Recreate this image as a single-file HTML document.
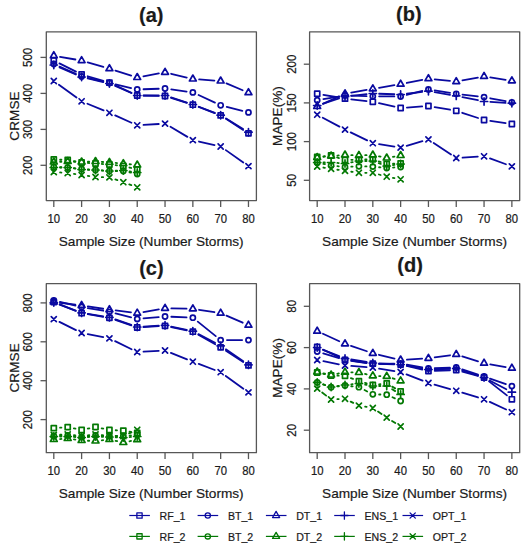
<!DOCTYPE html>
<html><head><meta charset="utf-8"><style>
html,body{margin:0;padding:0;background:#fff;}
svg{display:block;stroke-linecap:round;stroke-linejoin:round;}
text{stroke:#1a1a1a;stroke-width:0.2px;font-family:"Liberation Sans",sans-serif;}
</style></head><body>
<svg width="529" height="550" viewBox="0 0 529 550">
<rect width="529" height="550" fill="#fff"/>
<text x="151.20" y="21.8" font-size="20" font-weight="bold" text-anchor="middle" fill="#1a1a1a">(a)</text>
<rect x="46.3" y="31.8" width="210.10" height="168.80" fill="none" stroke="#575757" stroke-width="1.3"/>
<line x1="53.80" y1="200.6" x2="53.80" y2="207.00" stroke="#575757" stroke-width="1.3" stroke-linecap="butt"/>
<text transform="translate(53.80,223.30) scale(1,1.1)" font-size="11.3" text-anchor="middle" fill="#1a1a1a">10</text>
<line x1="81.61" y1="200.6" x2="81.61" y2="207.00" stroke="#575757" stroke-width="1.3" stroke-linecap="butt"/>
<text transform="translate(81.61,223.30) scale(1,1.1)" font-size="11.3" text-anchor="middle" fill="#1a1a1a">20</text>
<line x1="109.42" y1="200.6" x2="109.42" y2="207.00" stroke="#575757" stroke-width="1.3" stroke-linecap="butt"/>
<text transform="translate(109.42,223.30) scale(1,1.1)" font-size="11.3" text-anchor="middle" fill="#1a1a1a">30</text>
<line x1="137.23" y1="200.6" x2="137.23" y2="207.00" stroke="#575757" stroke-width="1.3" stroke-linecap="butt"/>
<text transform="translate(137.23,223.30) scale(1,1.1)" font-size="11.3" text-anchor="middle" fill="#1a1a1a">40</text>
<line x1="165.04" y1="200.6" x2="165.04" y2="207.00" stroke="#575757" stroke-width="1.3" stroke-linecap="butt"/>
<text transform="translate(165.04,223.30) scale(1,1.1)" font-size="11.3" text-anchor="middle" fill="#1a1a1a">50</text>
<line x1="192.85" y1="200.6" x2="192.85" y2="207.00" stroke="#575757" stroke-width="1.3" stroke-linecap="butt"/>
<text transform="translate(192.85,223.30) scale(1,1.1)" font-size="11.3" text-anchor="middle" fill="#1a1a1a">60</text>
<line x1="220.66" y1="200.6" x2="220.66" y2="207.00" stroke="#575757" stroke-width="1.3" stroke-linecap="butt"/>
<text transform="translate(220.66,223.30) scale(1,1.1)" font-size="11.3" text-anchor="middle" fill="#1a1a1a">70</text>
<line x1="248.47" y1="200.6" x2="248.47" y2="207.00" stroke="#575757" stroke-width="1.3" stroke-linecap="butt"/>
<text transform="translate(248.47,223.30) scale(1,1.1)" font-size="11.3" text-anchor="middle" fill="#1a1a1a">80</text>
<text x="151.20" y="245.70" font-size="13.65" text-anchor="middle" fill="#1a1a1a">Sample Size (Number Storms)</text>
<line x1="40.50" y1="57.4" x2="46.3" y2="57.4" stroke="#575757" stroke-width="1.3" stroke-linecap="butt"/>
<text transform="translate(32.40,57.4) rotate(-90) scale(1,1.08)" font-size="11.6" text-anchor="middle" fill="#1a1a1a">500</text>
<line x1="40.50" y1="93.4" x2="46.3" y2="93.4" stroke="#575757" stroke-width="1.3" stroke-linecap="butt"/>
<text transform="translate(32.40,93.4) rotate(-90) scale(1,1.08)" font-size="11.6" text-anchor="middle" fill="#1a1a1a">400</text>
<line x1="40.50" y1="129.4" x2="46.3" y2="129.4" stroke="#575757" stroke-width="1.3" stroke-linecap="butt"/>
<text transform="translate(32.40,129.4) rotate(-90) scale(1,1.08)" font-size="11.6" text-anchor="middle" fill="#1a1a1a">300</text>
<line x1="40.50" y1="165.3" x2="46.3" y2="165.3" stroke="#575757" stroke-width="1.3" stroke-linecap="butt"/>
<text transform="translate(32.40,165.3) rotate(-90) scale(1,1.08)" font-size="11.6" text-anchor="middle" fill="#1a1a1a">200</text>
<text transform="translate(18.60,116.05) rotate(-90)" font-size="13.65" text-anchor="middle" fill="#1a1a1a">CRMSE</text>
<line x1="60.10" y1="159.73" x2="61.41" y2="159.77" stroke="#037803" stroke-width="1.8" stroke-dasharray="7,5"/>
<line x1="73.91" y1="161.11" x2="75.41" y2="161.39" stroke="#037803" stroke-width="1.8" stroke-dasharray="7,5"/>
<line x1="87.89" y1="162.95" x2="89.23" y2="163.05" stroke="#037803" stroke-width="1.8" stroke-dasharray="7,5"/>
<line x1="101.80" y1="163.95" x2="103.14" y2="164.05" stroke="#037803" stroke-width="1.8" stroke-dasharray="7,5"/>
<line x1="115.68" y1="165.18" x2="117.06" y2="165.32" stroke="#037803" stroke-width="1.8" stroke-dasharray="7,5"/>
<line x1="129.43" y1="167.54" x2="131.12" y2="167.96" stroke="#037803" stroke-width="1.8" stroke-dasharray="7,5"/>
<rect x="51.25" y="156.95" width="5.10" height="5.10" fill="none" stroke="#037803" stroke-width="1.7"/>
<rect x="65.16" y="157.45" width="5.10" height="5.10" fill="none" stroke="#037803" stroke-width="1.7"/>
<rect x="79.06" y="159.95" width="5.10" height="5.10" fill="none" stroke="#037803" stroke-width="1.7"/>
<rect x="92.96" y="160.95" width="5.10" height="5.10" fill="none" stroke="#037803" stroke-width="1.7"/>
<rect x="106.87" y="161.95" width="5.10" height="5.10" fill="none" stroke="#037803" stroke-width="1.7"/>
<rect x="120.77" y="163.45" width="5.10" height="5.10" fill="none" stroke="#037803" stroke-width="1.7"/>
<rect x="134.68" y="166.95" width="5.10" height="5.10" fill="none" stroke="#037803" stroke-width="1.7"/>
<line x1="60.10" y1="167.23" x2="61.41" y2="167.27" stroke="#037803" stroke-width="1.8" stroke-dasharray="7,5"/>
<line x1="73.97" y1="168.18" x2="75.35" y2="168.32" stroke="#037803" stroke-width="1.8" stroke-dasharray="7,5"/>
<line x1="87.89" y1="169.45" x2="89.23" y2="169.55" stroke="#037803" stroke-width="1.8" stroke-dasharray="7,5"/>
<line x1="101.80" y1="170.45" x2="103.14" y2="170.55" stroke="#037803" stroke-width="1.8" stroke-dasharray="7,5"/>
<line x1="115.72" y1="171.00" x2="117.02" y2="171.00" stroke="#037803" stroke-width="1.8" stroke-dasharray="7,5"/>
<line x1="129.48" y1="172.33" x2="131.07" y2="172.67" stroke="#037803" stroke-width="1.8" stroke-dasharray="7,5"/>
<circle cx="53.80" cy="167.00" r="2.55" fill="none" stroke="#037803" stroke-width="1.7"/>
<circle cx="67.70" cy="167.50" r="2.55" fill="none" stroke="#037803" stroke-width="1.7"/>
<circle cx="81.61" cy="169.00" r="2.55" fill="none" stroke="#037803" stroke-width="1.7"/>
<circle cx="95.51" cy="170.00" r="2.55" fill="none" stroke="#037803" stroke-width="1.7"/>
<circle cx="109.42" cy="171.00" r="2.55" fill="none" stroke="#037803" stroke-width="1.7"/>
<circle cx="123.32" cy="171.00" r="2.55" fill="none" stroke="#037803" stroke-width="1.7"/>
<circle cx="137.23" cy="174.00" r="2.55" fill="none" stroke="#037803" stroke-width="1.7"/>
<line x1="60.10" y1="161.77" x2="61.41" y2="161.73" stroke="#037803" stroke-width="1.8" stroke-dasharray="7,5"/>
<line x1="74.00" y1="161.73" x2="75.31" y2="161.77" stroke="#037803" stroke-width="1.8" stroke-dasharray="7,5"/>
<line x1="87.91" y1="161.77" x2="89.22" y2="161.73" stroke="#037803" stroke-width="1.8" stroke-dasharray="7,5"/>
<line x1="101.80" y1="161.91" x2="103.13" y2="161.99" stroke="#037803" stroke-width="1.8" stroke-dasharray="7,5"/>
<line x1="115.70" y1="162.94" x2="117.05" y2="163.06" stroke="#037803" stroke-width="1.8" stroke-dasharray="7,5"/>
<line x1="129.59" y1="164.23" x2="130.96" y2="164.37" stroke="#037803" stroke-width="1.8" stroke-dasharray="7,5"/>
<polygon points="53.80,158.03 57.23,163.98 50.37,163.98" fill="none" stroke="#037803" stroke-width="1.7" />
<polygon points="67.70,157.53 71.14,163.48 64.27,163.48" fill="none" stroke="#037803" stroke-width="1.7" />
<polygon points="81.61,158.03 85.04,163.98 78.18,163.98" fill="none" stroke="#037803" stroke-width="1.7" />
<polygon points="95.51,157.53 98.95,163.48 92.08,163.48" fill="none" stroke="#037803" stroke-width="1.7" />
<polygon points="109.42,158.43 112.85,164.38 105.99,164.38" fill="none" stroke="#037803" stroke-width="1.7" />
<polygon points="123.32,159.63 126.76,165.58 119.89,165.58" fill="none" stroke="#037803" stroke-width="1.7" />
<polygon points="137.23,161.03 140.66,166.98 133.80,166.98" fill="none" stroke="#037803" stroke-width="1.7" />
<line x1="60.10" y1="167.50" x2="61.41" y2="167.50" stroke="#037803" stroke-width="1.8" stroke-dasharray="7,5"/>
<line x1="73.94" y1="168.40" x2="75.37" y2="168.60" stroke="#037803" stroke-width="1.8" stroke-dasharray="7,5"/>
<line x1="87.91" y1="169.73" x2="89.22" y2="169.77" stroke="#037803" stroke-width="1.8" stroke-dasharray="7,5"/>
<line x1="101.80" y1="170.45" x2="103.14" y2="170.55" stroke="#037803" stroke-width="1.8" stroke-dasharray="7,5"/>
<line x1="115.72" y1="170.77" x2="117.03" y2="170.73" stroke="#037803" stroke-width="1.8" stroke-dasharray="7,5"/>
<line x1="129.56" y1="171.40" x2="130.99" y2="171.60" stroke="#037803" stroke-width="1.8" stroke-dasharray="7,5"/>
<path d="M50.19 167.50H57.41M53.80 163.89V171.11" stroke="#037803" stroke-width="1.7" fill="none"/>
<path d="M64.10 167.50H71.31M67.70 163.89V171.11" stroke="#037803" stroke-width="1.7" fill="none"/>
<path d="M78.00 169.50H85.22M81.61 165.89V173.11" stroke="#037803" stroke-width="1.7" fill="none"/>
<path d="M91.91 170.00H99.12M95.51 166.39V173.61" stroke="#037803" stroke-width="1.7" fill="none"/>
<path d="M105.81 171.00H113.03M109.42 167.39V174.61" stroke="#037803" stroke-width="1.7" fill="none"/>
<path d="M119.72 170.50H126.93M123.32 166.89V174.11" stroke="#037803" stroke-width="1.7" fill="none"/>
<path d="M133.62 172.50H140.84M137.23 168.89V176.11" stroke="#037803" stroke-width="1.7" fill="none"/>
<line x1="60.08" y1="172.45" x2="61.42" y2="172.55" stroke="#037803" stroke-width="1.8" stroke-dasharray="7,5"/>
<line x1="73.94" y1="173.90" x2="75.37" y2="174.10" stroke="#037803" stroke-width="1.8" stroke-dasharray="7,5"/>
<line x1="87.85" y1="175.90" x2="89.28" y2="176.10" stroke="#037803" stroke-width="1.8" stroke-dasharray="7,5"/>
<line x1="101.81" y1="177.18" x2="103.12" y2="177.22" stroke="#037803" stroke-width="1.8" stroke-dasharray="7,5"/>
<line x1="115.38" y1="179.46" x2="117.37" y2="180.14" stroke="#037803" stroke-width="1.8" stroke-dasharray="7,5"/>
<line x1="129.24" y1="184.37" x2="131.32" y2="185.13" stroke="#037803" stroke-width="1.8" stroke-dasharray="7,5"/>
<path d="M51.25 169.45L56.35 174.55M51.25 174.55L56.35 169.45" stroke="#037803" stroke-width="1.7" fill="none"/>
<path d="M65.16 170.45L70.25 175.55M65.16 175.55L70.25 170.45" stroke="#037803" stroke-width="1.7" fill="none"/>
<path d="M79.06 172.45L84.16 177.55M79.06 177.55L84.16 172.45" stroke="#037803" stroke-width="1.7" fill="none"/>
<path d="M92.96 174.45L98.06 179.55M92.96 179.55L98.06 174.45" stroke="#037803" stroke-width="1.7" fill="none"/>
<path d="M106.87 174.85L111.97 179.95M106.87 179.95L111.97 174.85" stroke="#037803" stroke-width="1.7" fill="none"/>
<path d="M120.77 179.65L125.87 184.75M120.77 184.75L125.87 179.65" stroke="#037803" stroke-width="1.7" fill="none"/>
<path d="M134.68 184.75L139.78 189.85M134.68 189.85L139.78 184.75" stroke="#037803" stroke-width="1.7" fill="none"/>
<line x1="59.43" y1="63.33" x2="75.98" y2="71.67" stroke="#0a0aa0" stroke-width="1.8"/>
<line x1="87.66" y1="76.26" x2="103.37" y2="80.84" stroke="#0a0aa0" stroke-width="1.8"/>
<line x1="115.14" y1="85.25" x2="131.51" y2="92.85" stroke="#0a0aa0" stroke-width="1.8"/>
<line x1="143.53" y1="95.61" x2="158.74" y2="95.89" stroke="#0a0aa0" stroke-width="1.8"/>
<line x1="171.05" y1="97.88" x2="186.84" y2="102.82" stroke="#0a0aa0" stroke-width="1.8"/>
<line x1="198.73" y1="106.96" x2="214.78" y2="113.14" stroke="#0a0aa0" stroke-width="1.8"/>
<line x1="225.96" y1="118.81" x2="243.17" y2="129.89" stroke="#0a0aa0" stroke-width="1.8"/>
<rect x="51.25" y="57.95" width="5.10" height="5.10" fill="none" stroke="#0a0aa0" stroke-width="1.7"/>
<rect x="79.06" y="71.95" width="5.10" height="5.10" fill="none" stroke="#0a0aa0" stroke-width="1.7"/>
<rect x="106.87" y="80.05" width="5.10" height="5.10" fill="none" stroke="#0a0aa0" stroke-width="1.7"/>
<rect x="134.68" y="92.95" width="5.10" height="5.10" fill="none" stroke="#0a0aa0" stroke-width="1.7"/>
<rect x="162.49" y="93.45" width="5.10" height="5.10" fill="none" stroke="#0a0aa0" stroke-width="1.7"/>
<rect x="190.30" y="102.15" width="5.10" height="5.10" fill="none" stroke="#0a0aa0" stroke-width="1.7"/>
<rect x="218.11" y="112.85" width="5.10" height="5.10" fill="none" stroke="#0a0aa0" stroke-width="1.7"/>
<rect x="245.92" y="130.75" width="5.10" height="5.10" fill="none" stroke="#0a0aa0" stroke-width="1.7"/>
<line x1="59.55" y1="66.58" x2="75.86" y2="73.92" stroke="#0a0aa0" stroke-width="1.8"/>
<line x1="87.74" y1="77.93" x2="103.29" y2="81.57" stroke="#0a0aa0" stroke-width="1.8"/>
<line x1="115.55" y1="84.43" x2="131.10" y2="88.07" stroke="#0a0aa0" stroke-width="1.8"/>
<line x1="143.53" y1="89.27" x2="158.74" y2="88.73" stroke="#0a0aa0" stroke-width="1.8"/>
<line x1="171.28" y1="89.37" x2="186.61" y2="91.53" stroke="#0a0aa0" stroke-width="1.8"/>
<line x1="198.57" y1="95.05" x2="214.94" y2="102.65" stroke="#0a0aa0" stroke-width="1.8"/>
<line x1="226.76" y1="106.86" x2="242.37" y2="110.84" stroke="#0a0aa0" stroke-width="1.8"/>
<circle cx="53.80" cy="64.00" r="2.55" fill="none" stroke="#0a0aa0" stroke-width="1.7"/>
<circle cx="81.61" cy="76.50" r="2.55" fill="none" stroke="#0a0aa0" stroke-width="1.7"/>
<circle cx="109.42" cy="83.00" r="2.55" fill="none" stroke="#0a0aa0" stroke-width="1.7"/>
<circle cx="137.23" cy="89.50" r="2.55" fill="none" stroke="#0a0aa0" stroke-width="1.7"/>
<circle cx="165.04" cy="88.50" r="2.55" fill="none" stroke="#0a0aa0" stroke-width="1.7"/>
<circle cx="192.85" cy="92.40" r="2.55" fill="none" stroke="#0a0aa0" stroke-width="1.7"/>
<circle cx="220.66" cy="105.30" r="2.55" fill="none" stroke="#0a0aa0" stroke-width="1.7"/>
<circle cx="248.47" cy="112.40" r="2.55" fill="none" stroke="#0a0aa0" stroke-width="1.7"/>
<line x1="60.00" y1="56.79" x2="75.41" y2="59.51" stroke="#0a0aa0" stroke-width="1.8"/>
<line x1="87.66" y1="62.36" x2="103.37" y2="66.94" stroke="#0a0aa0" stroke-width="1.8"/>
<line x1="115.43" y1="70.60" x2="131.22" y2="75.60" stroke="#0a0aa0" stroke-width="1.8"/>
<line x1="143.42" y1="76.34" x2="158.85" y2="73.46" stroke="#0a0aa0" stroke-width="1.8"/>
<line x1="171.16" y1="73.78" x2="186.73" y2="77.52" stroke="#0a0aa0" stroke-width="1.8"/>
<line x1="199.13" y1="79.45" x2="214.38" y2="80.55" stroke="#0a0aa0" stroke-width="1.8"/>
<line x1="226.47" y1="83.44" x2="242.66" y2="90.26" stroke="#0a0aa0" stroke-width="1.8"/>
<polygon points="53.80,51.73 57.23,57.68 50.37,57.68" fill="none" stroke="#0a0aa0" stroke-width="1.7" />
<polygon points="81.61,56.63 85.04,62.58 78.18,62.58" fill="none" stroke="#0a0aa0" stroke-width="1.7" />
<polygon points="109.42,64.73 112.85,70.68 105.99,70.68" fill="none" stroke="#0a0aa0" stroke-width="1.7" />
<polygon points="137.23,73.53 140.66,79.48 133.80,79.48" fill="none" stroke="#0a0aa0" stroke-width="1.7" />
<polygon points="165.04,68.33 168.47,74.28 161.61,74.28" fill="none" stroke="#0a0aa0" stroke-width="1.7" />
<polygon points="192.85,75.03 196.28,80.98 189.42,80.98" fill="none" stroke="#0a0aa0" stroke-width="1.7" />
<polygon points="220.66,77.03 224.09,82.98 217.23,82.98" fill="none" stroke="#0a0aa0" stroke-width="1.7" />
<polygon points="248.47,88.73 251.90,94.68 245.04,94.68" fill="none" stroke="#0a0aa0" stroke-width="1.7" />
<line x1="59.58" y1="67.50" x2="75.83" y2="74.50" stroke="#0a0aa0" stroke-width="1.8"/>
<line x1="87.74" y1="78.43" x2="103.29" y2="82.07" stroke="#0a0aa0" stroke-width="1.8"/>
<line x1="115.20" y1="86.00" x2="131.45" y2="93.00" stroke="#0a0aa0" stroke-width="1.8"/>
<line x1="143.53" y1="95.50" x2="158.74" y2="95.50" stroke="#0a0aa0" stroke-width="1.8"/>
<line x1="171.03" y1="97.44" x2="186.86" y2="102.56" stroke="#0a0aa0" stroke-width="1.8"/>
<line x1="198.73" y1="106.76" x2="214.78" y2="112.94" stroke="#0a0aa0" stroke-width="1.8"/>
<line x1="226.04" y1="118.49" x2="243.09" y2="128.91" stroke="#0a0aa0" stroke-width="1.8"/>
<path d="M50.19 65.00H57.41M53.80 61.39V68.61" stroke="#0a0aa0" stroke-width="1.7" fill="none"/>
<path d="M78.00 77.00H85.22M81.61 73.39V80.61" stroke="#0a0aa0" stroke-width="1.7" fill="none"/>
<path d="M105.81 83.50H113.03M109.42 79.89V87.11" stroke="#0a0aa0" stroke-width="1.7" fill="none"/>
<path d="M133.62 95.50H140.84M137.23 91.89V99.11" stroke="#0a0aa0" stroke-width="1.7" fill="none"/>
<path d="M161.43 95.50H168.65M165.04 91.89V99.11" stroke="#0a0aa0" stroke-width="1.7" fill="none"/>
<path d="M189.24 104.50H196.46M192.85 100.89V108.11" stroke="#0a0aa0" stroke-width="1.7" fill="none"/>
<path d="M217.05 115.20H224.27M220.66 111.59V118.81" stroke="#0a0aa0" stroke-width="1.7" fill="none"/>
<path d="M244.86 132.20H252.08M248.47 128.59V135.81" stroke="#0a0aa0" stroke-width="1.7" fill="none"/>
<line x1="58.89" y1="84.71" x2="76.52" y2="97.59" stroke="#0a0aa0" stroke-width="1.8"/>
<line x1="87.43" y1="103.71" x2="103.60" y2="110.39" stroke="#0a0aa0" stroke-width="1.8"/>
<line x1="115.17" y1="115.38" x2="131.48" y2="122.72" stroke="#0a0aa0" stroke-width="1.8"/>
<line x1="143.52" y1="124.92" x2="158.75" y2="123.98" stroke="#0a0aa0" stroke-width="1.8"/>
<line x1="170.46" y1="126.81" x2="187.43" y2="136.89" stroke="#0a0aa0" stroke-width="1.8"/>
<line x1="198.99" y1="141.51" x2="214.52" y2="145.09" stroke="#0a0aa0" stroke-width="1.8"/>
<line x1="225.81" y1="150.13" x2="243.32" y2="162.47" stroke="#0a0aa0" stroke-width="1.8"/>
<path d="M51.25 78.45L56.35 83.55M51.25 83.55L56.35 78.45" stroke="#0a0aa0" stroke-width="1.7" fill="none"/>
<path d="M79.06 98.75L84.16 103.85M79.06 103.85L84.16 98.75" stroke="#0a0aa0" stroke-width="1.7" fill="none"/>
<path d="M106.87 110.25L111.97 115.35M106.87 115.35L111.97 110.25" stroke="#0a0aa0" stroke-width="1.7" fill="none"/>
<path d="M134.68 122.75L139.78 127.85M134.68 127.85L139.78 122.75" stroke="#0a0aa0" stroke-width="1.7" fill="none"/>
<path d="M162.49 121.05L167.59 126.15M162.49 126.15L167.59 121.05" stroke="#0a0aa0" stroke-width="1.7" fill="none"/>
<path d="M190.30 137.55L195.40 142.65M190.30 142.65L195.40 137.55" stroke="#0a0aa0" stroke-width="1.7" fill="none"/>
<path d="M218.11 143.95L223.21 149.05M218.11 149.05L223.21 143.95" stroke="#0a0aa0" stroke-width="1.7" fill="none"/>
<path d="M245.92 163.55L251.02 168.65M245.92 168.65L251.02 163.55" stroke="#0a0aa0" stroke-width="1.7" fill="none"/>
<text x="408.80" y="21.2" font-size="20" font-weight="bold" text-anchor="middle" fill="#1a1a1a">(b)</text>
<rect x="309.6" y="31.8" width="210.10" height="168.80" fill="none" stroke="#575757" stroke-width="1.3"/>
<line x1="317.20" y1="200.6" x2="317.20" y2="207.00" stroke="#575757" stroke-width="1.3" stroke-linecap="butt"/>
<text transform="translate(317.20,223.30) scale(1,1.1)" font-size="11.3" text-anchor="middle" fill="#1a1a1a">10</text>
<line x1="345.01" y1="200.6" x2="345.01" y2="207.00" stroke="#575757" stroke-width="1.3" stroke-linecap="butt"/>
<text transform="translate(345.01,223.30) scale(1,1.1)" font-size="11.3" text-anchor="middle" fill="#1a1a1a">20</text>
<line x1="372.82" y1="200.6" x2="372.82" y2="207.00" stroke="#575757" stroke-width="1.3" stroke-linecap="butt"/>
<text transform="translate(372.82,223.30) scale(1,1.1)" font-size="11.3" text-anchor="middle" fill="#1a1a1a">30</text>
<line x1="400.63" y1="200.6" x2="400.63" y2="207.00" stroke="#575757" stroke-width="1.3" stroke-linecap="butt"/>
<text transform="translate(400.63,223.30) scale(1,1.1)" font-size="11.3" text-anchor="middle" fill="#1a1a1a">40</text>
<line x1="428.44" y1="200.6" x2="428.44" y2="207.00" stroke="#575757" stroke-width="1.3" stroke-linecap="butt"/>
<text transform="translate(428.44,223.30) scale(1,1.1)" font-size="11.3" text-anchor="middle" fill="#1a1a1a">50</text>
<line x1="456.25" y1="200.6" x2="456.25" y2="207.00" stroke="#575757" stroke-width="1.3" stroke-linecap="butt"/>
<text transform="translate(456.25,223.30) scale(1,1.1)" font-size="11.3" text-anchor="middle" fill="#1a1a1a">60</text>
<line x1="484.06" y1="200.6" x2="484.06" y2="207.00" stroke="#575757" stroke-width="1.3" stroke-linecap="butt"/>
<text transform="translate(484.06,223.30) scale(1,1.1)" font-size="11.3" text-anchor="middle" fill="#1a1a1a">70</text>
<line x1="511.87" y1="200.6" x2="511.87" y2="207.00" stroke="#575757" stroke-width="1.3" stroke-linecap="butt"/>
<text transform="translate(511.87,223.30) scale(1,1.1)" font-size="11.3" text-anchor="middle" fill="#1a1a1a">80</text>
<text x="414.55" y="245.70" font-size="13.65" text-anchor="middle" fill="#1a1a1a">Sample Size (Number Storms)</text>
<line x1="303.80" y1="64.2" x2="309.6" y2="64.2" stroke="#575757" stroke-width="1.3" stroke-linecap="butt"/>
<text transform="translate(295.80,64.2) rotate(-90) scale(1,1.08)" font-size="11.6" text-anchor="middle" fill="#1a1a1a">200</text>
<line x1="303.80" y1="102.9" x2="309.6" y2="102.9" stroke="#575757" stroke-width="1.3" stroke-linecap="butt"/>
<text transform="translate(295.80,102.9) rotate(-90) scale(1,1.08)" font-size="11.6" text-anchor="middle" fill="#1a1a1a">150</text>
<line x1="303.80" y1="141.6" x2="309.6" y2="141.6" stroke="#575757" stroke-width="1.3" stroke-linecap="butt"/>
<text transform="translate(295.80,141.6) rotate(-90) scale(1,1.08)" font-size="11.6" text-anchor="middle" fill="#1a1a1a">100</text>
<line x1="303.80" y1="180.3" x2="309.6" y2="180.3" stroke="#575757" stroke-width="1.3" stroke-linecap="butt"/>
<text transform="translate(295.80,180.3) rotate(-90) scale(1,1.08)" font-size="11.6" text-anchor="middle" fill="#1a1a1a">50</text>
<text transform="translate(282.00,116.05) rotate(-90)" font-size="13.65" text-anchor="middle" fill="#1a1a1a">MAPE(%)</text>
<line x1="323.46" y1="156.32" x2="324.84" y2="156.18" stroke="#037803" stroke-width="1.8" stroke-dasharray="7,5"/>
<line x1="337.10" y1="157.44" x2="339.02" y2="158.06" stroke="#037803" stroke-width="1.8" stroke-dasharray="7,5"/>
<line x1="351.31" y1="159.82" x2="352.62" y2="159.78" stroke="#037803" stroke-width="1.8" stroke-dasharray="7,5"/>
<line x1="365.21" y1="159.46" x2="366.52" y2="159.44" stroke="#037803" stroke-width="1.8" stroke-dasharray="7,5"/>
<line x1="378.79" y1="161.32" x2="380.76" y2="161.98" stroke="#037803" stroke-width="1.8" stroke-dasharray="7,5"/>
<line x1="393.02" y1="163.77" x2="394.33" y2="163.73" stroke="#037803" stroke-width="1.8" stroke-dasharray="7,5"/>
<rect x="314.65" y="154.45" width="5.10" height="5.10" fill="none" stroke="#037803" stroke-width="1.7"/>
<rect x="328.55" y="152.95" width="5.10" height="5.10" fill="none" stroke="#037803" stroke-width="1.7"/>
<rect x="342.46" y="157.45" width="5.10" height="5.10" fill="none" stroke="#037803" stroke-width="1.7"/>
<rect x="356.36" y="157.05" width="5.10" height="5.10" fill="none" stroke="#037803" stroke-width="1.7"/>
<rect x="370.27" y="156.75" width="5.10" height="5.10" fill="none" stroke="#037803" stroke-width="1.7"/>
<rect x="384.17" y="161.45" width="5.10" height="5.10" fill="none" stroke="#037803" stroke-width="1.7"/>
<rect x="398.08" y="160.95" width="5.10" height="5.10" fill="none" stroke="#037803" stroke-width="1.7"/>
<line x1="323.36" y1="163.83" x2="324.95" y2="164.17" stroke="#037803" stroke-width="1.8" stroke-dasharray="7,5"/>
<line x1="337.37" y1="166.18" x2="338.75" y2="166.32" stroke="#037803" stroke-width="1.8" stroke-dasharray="7,5"/>
<line x1="351.30" y1="166.68" x2="352.62" y2="166.62" stroke="#037803" stroke-width="1.8" stroke-dasharray="7,5"/>
<line x1="365.21" y1="166.44" x2="366.52" y2="166.46" stroke="#037803" stroke-width="1.8" stroke-dasharray="7,5"/>
<line x1="379.09" y1="167.23" x2="380.46" y2="167.37" stroke="#037803" stroke-width="1.8" stroke-dasharray="7,5"/>
<line x1="393.01" y1="167.55" x2="394.35" y2="167.45" stroke="#037803" stroke-width="1.8" stroke-dasharray="7,5"/>
<circle cx="317.20" cy="162.50" r="2.55" fill="none" stroke="#037803" stroke-width="1.7"/>
<circle cx="331.10" cy="165.50" r="2.55" fill="none" stroke="#037803" stroke-width="1.7"/>
<circle cx="345.01" cy="167.00" r="2.55" fill="none" stroke="#037803" stroke-width="1.7"/>
<circle cx="358.91" cy="166.30" r="2.55" fill="none" stroke="#037803" stroke-width="1.7"/>
<circle cx="372.82" cy="166.60" r="2.55" fill="none" stroke="#037803" stroke-width="1.7"/>
<circle cx="386.72" cy="168.00" r="2.55" fill="none" stroke="#037803" stroke-width="1.7"/>
<circle cx="400.63" cy="167.00" r="2.55" fill="none" stroke="#037803" stroke-width="1.7"/>
<line x1="323.46" y1="156.82" x2="324.84" y2="156.68" stroke="#037803" stroke-width="1.8" stroke-dasharray="7,5"/>
<line x1="337.39" y1="155.55" x2="338.73" y2="155.45" stroke="#037803" stroke-width="1.8" stroke-dasharray="7,5"/>
<line x1="351.31" y1="155.18" x2="352.62" y2="155.22" stroke="#037803" stroke-width="1.8" stroke-dasharray="7,5"/>
<line x1="365.21" y1="155.22" x2="366.52" y2="155.18" stroke="#037803" stroke-width="1.8" stroke-dasharray="7,5"/>
<line x1="378.98" y1="156.33" x2="380.57" y2="156.67" stroke="#037803" stroke-width="1.8" stroke-dasharray="7,5"/>
<line x1="392.93" y1="156.89" x2="394.43" y2="156.61" stroke="#037803" stroke-width="1.8" stroke-dasharray="7,5"/>
<polygon points="317.20,153.53 320.63,159.48 313.77,159.48" fill="none" stroke="#037803" stroke-width="1.7" />
<polygon points="331.10,152.03 334.54,157.98 327.67,157.98" fill="none" stroke="#037803" stroke-width="1.7" />
<polygon points="345.01,151.03 348.44,156.98 341.58,156.98" fill="none" stroke="#037803" stroke-width="1.7" />
<polygon points="358.91,151.43 362.35,157.38 355.48,157.38" fill="none" stroke="#037803" stroke-width="1.7" />
<polygon points="372.82,151.03 376.25,156.98 369.39,156.98" fill="none" stroke="#037803" stroke-width="1.7" />
<polygon points="386.72,154.03 390.16,159.98 383.29,159.98" fill="none" stroke="#037803" stroke-width="1.7" />
<polygon points="400.63,151.53 404.06,157.48 397.20,157.48" fill="none" stroke="#037803" stroke-width="1.7" />
<line x1="323.50" y1="162.50" x2="324.80" y2="162.50" stroke="#037803" stroke-width="1.8" stroke-dasharray="7,5"/>
<line x1="337.39" y1="162.95" x2="338.73" y2="163.05" stroke="#037803" stroke-width="1.8" stroke-dasharray="7,5"/>
<line x1="351.21" y1="162.39" x2="352.71" y2="162.11" stroke="#037803" stroke-width="1.8" stroke-dasharray="7,5"/>
<line x1="365.21" y1="161.00" x2="366.52" y2="161.00" stroke="#037803" stroke-width="1.8" stroke-dasharray="7,5"/>
<line x1="378.75" y1="163.13" x2="380.80" y2="163.87" stroke="#037803" stroke-width="1.8" stroke-dasharray="7,5"/>
<line x1="392.96" y1="165.10" x2="394.39" y2="164.90" stroke="#037803" stroke-width="1.8" stroke-dasharray="7,5"/>
<path d="M313.59 162.50H320.81M317.20 158.89V166.11" stroke="#037803" stroke-width="1.7" fill="none"/>
<path d="M327.50 162.50H334.71M331.10 158.89V166.11" stroke="#037803" stroke-width="1.7" fill="none"/>
<path d="M341.40 163.50H348.62M345.01 159.89V167.11" stroke="#037803" stroke-width="1.7" fill="none"/>
<path d="M355.31 161.00H362.52M358.91 157.39V164.61" stroke="#037803" stroke-width="1.7" fill="none"/>
<path d="M369.21 161.00H376.43M372.82 157.39V164.61" stroke="#037803" stroke-width="1.7" fill="none"/>
<path d="M383.12 166.00H390.33M386.72 162.39V169.61" stroke="#037803" stroke-width="1.7" fill="none"/>
<path d="M397.02 164.00H404.24M400.63 160.39V167.61" stroke="#037803" stroke-width="1.7" fill="none"/>
<line x1="323.42" y1="167.53" x2="324.89" y2="167.77" stroke="#037803" stroke-width="1.8" stroke-dasharray="7,5"/>
<line x1="337.33" y1="169.74" x2="338.78" y2="169.96" stroke="#037803" stroke-width="1.8" stroke-dasharray="7,5"/>
<line x1="351.25" y1="171.75" x2="352.67" y2="171.95" stroke="#037803" stroke-width="1.8" stroke-dasharray="7,5"/>
<line x1="365.21" y1="172.80" x2="366.52" y2="172.80" stroke="#037803" stroke-width="1.8" stroke-dasharray="7,5"/>
<line x1="378.89" y1="174.50" x2="380.66" y2="175.00" stroke="#037803" stroke-width="1.8" stroke-dasharray="7,5"/>
<line x1="392.92" y1="177.86" x2="394.44" y2="178.14" stroke="#037803" stroke-width="1.8" stroke-dasharray="7,5"/>
<path d="M314.65 163.95L319.75 169.05M314.65 169.05L319.75 163.95" stroke="#037803" stroke-width="1.7" fill="none"/>
<path d="M328.55 166.25L333.65 171.35M328.55 171.35L333.65 166.25" stroke="#037803" stroke-width="1.7" fill="none"/>
<path d="M342.46 168.35L347.56 173.45M342.46 173.45L347.56 168.35" stroke="#037803" stroke-width="1.7" fill="none"/>
<path d="M356.36 170.25L361.46 175.35M356.36 175.35L361.46 170.25" stroke="#037803" stroke-width="1.7" fill="none"/>
<path d="M370.27 170.25L375.37 175.35M370.27 175.35L375.37 170.25" stroke="#037803" stroke-width="1.7" fill="none"/>
<path d="M384.17 174.15L389.27 179.25M384.17 179.25L389.27 174.15" stroke="#037803" stroke-width="1.7" fill="none"/>
<path d="M398.08 176.75L403.18 181.85M398.08 181.85L403.18 176.75" stroke="#037803" stroke-width="1.7" fill="none"/>
<line x1="323.40" y1="94.79" x2="338.81" y2="97.51" stroke="#0a0aa0" stroke-width="1.8"/>
<line x1="351.27" y1="99.32" x2="366.56" y2="101.08" stroke="#0a0aa0" stroke-width="1.8"/>
<line x1="378.97" y1="103.17" x2="394.48" y2="106.63" stroke="#0a0aa0" stroke-width="1.8"/>
<line x1="406.91" y1="107.55" x2="422.16" y2="106.45" stroke="#0a0aa0" stroke-width="1.8"/>
<line x1="434.65" y1="107.07" x2="450.04" y2="109.73" stroke="#0a0aa0" stroke-width="1.8"/>
<line x1="462.23" y1="112.78" x2="478.08" y2="118.02" stroke="#0a0aa0" stroke-width="1.8"/>
<line x1="490.30" y1="120.90" x2="505.63" y2="123.10" stroke="#0a0aa0" stroke-width="1.8"/>
<rect x="314.65" y="91.15" width="5.10" height="5.10" fill="none" stroke="#0a0aa0" stroke-width="1.7"/>
<rect x="342.46" y="96.05" width="5.10" height="5.10" fill="none" stroke="#0a0aa0" stroke-width="1.7"/>
<rect x="370.27" y="99.25" width="5.10" height="5.10" fill="none" stroke="#0a0aa0" stroke-width="1.7"/>
<rect x="398.08" y="105.45" width="5.10" height="5.10" fill="none" stroke="#0a0aa0" stroke-width="1.7"/>
<rect x="425.89" y="103.45" width="5.10" height="5.10" fill="none" stroke="#0a0aa0" stroke-width="1.7"/>
<rect x="453.70" y="108.25" width="5.10" height="5.10" fill="none" stroke="#0a0aa0" stroke-width="1.7"/>
<rect x="481.51" y="117.45" width="5.10" height="5.10" fill="none" stroke="#0a0aa0" stroke-width="1.7"/>
<rect x="509.32" y="121.45" width="5.10" height="5.10" fill="none" stroke="#0a0aa0" stroke-width="1.7"/>
<line x1="323.41" y1="99.15" x2="338.80" y2="96.55" stroke="#0a0aa0" stroke-width="1.8"/>
<line x1="351.31" y1="95.68" x2="366.52" y2="96.12" stroke="#0a0aa0" stroke-width="1.8"/>
<line x1="379.12" y1="96.35" x2="394.33" y2="96.45" stroke="#0a0aa0" stroke-width="1.8"/>
<line x1="406.73" y1="94.94" x2="422.34" y2="90.96" stroke="#0a0aa0" stroke-width="1.8"/>
<line x1="434.66" y1="90.38" x2="450.03" y2="92.82" stroke="#0a0aa0" stroke-width="1.8"/>
<line x1="462.51" y1="94.54" x2="477.80" y2="96.36" stroke="#0a0aa0" stroke-width="1.8"/>
<line x1="490.25" y1="98.26" x2="505.68" y2="101.14" stroke="#0a0aa0" stroke-width="1.8"/>
<circle cx="317.20" cy="100.20" r="2.55" fill="none" stroke="#0a0aa0" stroke-width="1.7"/>
<circle cx="345.01" cy="95.50" r="2.55" fill="none" stroke="#0a0aa0" stroke-width="1.7"/>
<circle cx="372.82" cy="96.30" r="2.55" fill="none" stroke="#0a0aa0" stroke-width="1.7"/>
<circle cx="400.63" cy="96.50" r="2.55" fill="none" stroke="#0a0aa0" stroke-width="1.7"/>
<circle cx="428.44" cy="89.40" r="2.55" fill="none" stroke="#0a0aa0" stroke-width="1.7"/>
<circle cx="456.25" cy="93.80" r="2.55" fill="none" stroke="#0a0aa0" stroke-width="1.7"/>
<circle cx="484.06" cy="97.10" r="2.55" fill="none" stroke="#0a0aa0" stroke-width="1.7"/>
<circle cx="511.87" cy="102.30" r="2.55" fill="none" stroke="#0a0aa0" stroke-width="1.7"/>
<line x1="322.93" y1="103.88" x2="339.28" y2="96.42" stroke="#0a0aa0" stroke-width="1.8"/>
<line x1="351.21" y1="92.69" x2="366.62" y2="89.91" stroke="#0a0aa0" stroke-width="1.8"/>
<line x1="379.04" y1="87.77" x2="394.41" y2="85.23" stroke="#0a0aa0" stroke-width="1.8"/>
<line x1="406.81" y1="82.98" x2="422.26" y2="79.92" stroke="#0a0aa0" stroke-width="1.8"/>
<line x1="434.71" y1="79.35" x2="449.98" y2="80.95" stroke="#0a0aa0" stroke-width="1.8"/>
<line x1="462.44" y1="80.44" x2="477.87" y2="77.56" stroke="#0a0aa0" stroke-width="1.8"/>
<line x1="490.28" y1="77.38" x2="505.65" y2="79.82" stroke="#0a0aa0" stroke-width="1.8"/>
<polygon points="317.20,102.53 320.63,108.48 313.77,108.48" fill="none" stroke="#0a0aa0" stroke-width="1.7" />
<polygon points="345.01,89.83 348.44,95.78 341.58,95.78" fill="none" stroke="#0a0aa0" stroke-width="1.7" />
<polygon points="372.82,84.83 376.25,90.78 369.39,90.78" fill="none" stroke="#0a0aa0" stroke-width="1.7" />
<polygon points="400.63,80.23 404.06,86.18 397.20,86.18" fill="none" stroke="#0a0aa0" stroke-width="1.7" />
<polygon points="428.44,74.73 431.87,80.68 425.01,80.68" fill="none" stroke="#0a0aa0" stroke-width="1.7" />
<polygon points="456.25,77.63 459.68,83.58 452.82,83.58" fill="none" stroke="#0a0aa0" stroke-width="1.7" />
<polygon points="484.06,72.43 487.49,78.38 480.63,78.38" fill="none" stroke="#0a0aa0" stroke-width="1.7" />
<polygon points="511.87,76.83 515.30,82.78 508.44,82.78" fill="none" stroke="#0a0aa0" stroke-width="1.7" />
<line x1="323.19" y1="103.56" x2="339.02" y2="98.44" stroke="#0a0aa0" stroke-width="1.8"/>
<line x1="351.27" y1="95.82" x2="366.56" y2="94.18" stroke="#0a0aa0" stroke-width="1.8"/>
<line x1="379.12" y1="93.73" x2="394.33" y2="94.27" stroke="#0a0aa0" stroke-width="1.8"/>
<line x1="406.89" y1="93.76" x2="422.18" y2="91.94" stroke="#0a0aa0" stroke-width="1.8"/>
<line x1="434.66" y1="92.23" x2="450.03" y2="94.77" stroke="#0a0aa0" stroke-width="1.8"/>
<line x1="462.42" y1="97.06" x2="477.89" y2="100.24" stroke="#0a0aa0" stroke-width="1.8"/>
<line x1="490.35" y1="101.88" x2="505.58" y2="102.82" stroke="#0a0aa0" stroke-width="1.8"/>
<path d="M313.59 105.50H320.81M317.20 101.89V109.11" stroke="#0a0aa0" stroke-width="1.7" fill="none"/>
<path d="M341.40 96.50H348.62M345.01 92.89V100.11" stroke="#0a0aa0" stroke-width="1.7" fill="none"/>
<path d="M369.21 93.50H376.43M372.82 89.89V97.11" stroke="#0a0aa0" stroke-width="1.7" fill="none"/>
<path d="M397.02 94.50H404.24M400.63 90.89V98.11" stroke="#0a0aa0" stroke-width="1.7" fill="none"/>
<path d="M424.83 91.20H432.05M428.44 87.59V94.81" stroke="#0a0aa0" stroke-width="1.7" fill="none"/>
<path d="M452.64 95.80H459.86M456.25 92.19V99.41" stroke="#0a0aa0" stroke-width="1.7" fill="none"/>
<path d="M480.45 101.50H487.67M484.06 97.89V105.11" stroke="#0a0aa0" stroke-width="1.7" fill="none"/>
<path d="M508.26 103.20H515.48M511.87 99.59V106.81" stroke="#0a0aa0" stroke-width="1.7" fill="none"/>
<line x1="322.75" y1="117.68" x2="339.46" y2="126.62" stroke="#0a0aa0" stroke-width="1.8"/>
<line x1="350.67" y1="132.37" x2="367.16" y2="140.43" stroke="#0a0aa0" stroke-width="1.8"/>
<line x1="379.04" y1="144.18" x2="394.41" y2="146.62" stroke="#0a0aa0" stroke-width="1.8"/>
<line x1="406.67" y1="145.82" x2="422.40" y2="141.18" stroke="#0a0aa0" stroke-width="1.8"/>
<line x1="433.68" y1="142.90" x2="451.01" y2="154.50" stroke="#0a0aa0" stroke-width="1.8"/>
<line x1="462.54" y1="157.62" x2="477.77" y2="156.68" stroke="#0a0aa0" stroke-width="1.8"/>
<line x1="489.98" y1="158.45" x2="505.95" y2="164.25" stroke="#0a0aa0" stroke-width="1.8"/>
<path d="M314.65 112.15L319.75 117.25M314.65 117.25L319.75 112.15" stroke="#0a0aa0" stroke-width="1.7" fill="none"/>
<path d="M342.46 127.05L347.56 132.15M342.46 132.15L347.56 127.05" stroke="#0a0aa0" stroke-width="1.7" fill="none"/>
<path d="M370.27 140.65L375.37 145.75M370.27 145.75L375.37 140.65" stroke="#0a0aa0" stroke-width="1.7" fill="none"/>
<path d="M398.08 145.05L403.18 150.15M398.08 150.15L403.18 145.05" stroke="#0a0aa0" stroke-width="1.7" fill="none"/>
<path d="M425.89 136.85L430.99 141.95M425.89 141.95L430.99 136.85" stroke="#0a0aa0" stroke-width="1.7" fill="none"/>
<path d="M453.70 155.45L458.80 160.55M453.70 160.55L458.80 155.45" stroke="#0a0aa0" stroke-width="1.7" fill="none"/>
<path d="M481.51 153.75L486.61 158.85M481.51 158.85L486.61 153.75" stroke="#0a0aa0" stroke-width="1.7" fill="none"/>
<path d="M509.32 163.85L514.42 168.95M509.32 168.95L514.42 163.85" stroke="#0a0aa0" stroke-width="1.7" fill="none"/>
<text x="151.40" y="274.9" font-size="20" font-weight="bold" text-anchor="middle" fill="#1a1a1a">(c)</text>
<rect x="46.3" y="283.7" width="210.10" height="169.00" fill="none" stroke="#575757" stroke-width="1.3"/>
<line x1="53.80" y1="452.7" x2="53.80" y2="459.10" stroke="#575757" stroke-width="1.3" stroke-linecap="butt"/>
<text transform="translate(53.80,475.10) scale(1,1.1)" font-size="11.3" text-anchor="middle" fill="#1a1a1a">10</text>
<line x1="81.61" y1="452.7" x2="81.61" y2="459.10" stroke="#575757" stroke-width="1.3" stroke-linecap="butt"/>
<text transform="translate(81.61,475.10) scale(1,1.1)" font-size="11.3" text-anchor="middle" fill="#1a1a1a">20</text>
<line x1="109.42" y1="452.7" x2="109.42" y2="459.10" stroke="#575757" stroke-width="1.3" stroke-linecap="butt"/>
<text transform="translate(109.42,475.10) scale(1,1.1)" font-size="11.3" text-anchor="middle" fill="#1a1a1a">30</text>
<line x1="137.23" y1="452.7" x2="137.23" y2="459.10" stroke="#575757" stroke-width="1.3" stroke-linecap="butt"/>
<text transform="translate(137.23,475.10) scale(1,1.1)" font-size="11.3" text-anchor="middle" fill="#1a1a1a">40</text>
<line x1="165.04" y1="452.7" x2="165.04" y2="459.10" stroke="#575757" stroke-width="1.3" stroke-linecap="butt"/>
<text transform="translate(165.04,475.10) scale(1,1.1)" font-size="11.3" text-anchor="middle" fill="#1a1a1a">50</text>
<line x1="192.85" y1="452.7" x2="192.85" y2="459.10" stroke="#575757" stroke-width="1.3" stroke-linecap="butt"/>
<text transform="translate(192.85,475.10) scale(1,1.1)" font-size="11.3" text-anchor="middle" fill="#1a1a1a">60</text>
<line x1="220.66" y1="452.7" x2="220.66" y2="459.10" stroke="#575757" stroke-width="1.3" stroke-linecap="butt"/>
<text transform="translate(220.66,475.10) scale(1,1.1)" font-size="11.3" text-anchor="middle" fill="#1a1a1a">70</text>
<line x1="248.47" y1="452.7" x2="248.47" y2="459.10" stroke="#575757" stroke-width="1.3" stroke-linecap="butt"/>
<text transform="translate(248.47,475.10) scale(1,1.1)" font-size="11.3" text-anchor="middle" fill="#1a1a1a">80</text>
<text x="151.20" y="497.50" font-size="13.65" text-anchor="middle" fill="#1a1a1a">Sample Size (Number Storms)</text>
<line x1="40.50" y1="302.9" x2="46.3" y2="302.9" stroke="#575757" stroke-width="1.3" stroke-linecap="butt"/>
<text transform="translate(32.40,302.9) rotate(-90) scale(1,1.08)" font-size="11.6" text-anchor="middle" fill="#1a1a1a">800</text>
<line x1="40.50" y1="341.8" x2="46.3" y2="341.8" stroke="#575757" stroke-width="1.3" stroke-linecap="butt"/>
<text transform="translate(32.40,341.8) rotate(-90) scale(1,1.08)" font-size="11.6" text-anchor="middle" fill="#1a1a1a">600</text>
<line x1="40.50" y1="380.7" x2="46.3" y2="380.7" stroke="#575757" stroke-width="1.3" stroke-linecap="butt"/>
<text transform="translate(32.40,380.7) rotate(-90) scale(1,1.08)" font-size="11.6" text-anchor="middle" fill="#1a1a1a">400</text>
<line x1="40.50" y1="419.6" x2="46.3" y2="419.6" stroke="#575757" stroke-width="1.3" stroke-linecap="butt"/>
<text transform="translate(32.40,419.6) rotate(-90) scale(1,1.08)" font-size="11.6" text-anchor="middle" fill="#1a1a1a">200</text>
<text transform="translate(18.60,367.90) rotate(-90)" font-size="13.65" text-anchor="middle" fill="#1a1a1a">CRMSE</text>
<line x1="60.08" y1="427.65" x2="61.42" y2="427.55" stroke="#037803" stroke-width="1.8" stroke-dasharray="7,5"/>
<line x1="73.87" y1="428.39" x2="75.44" y2="428.71" stroke="#037803" stroke-width="1.8" stroke-dasharray="7,5"/>
<line x1="87.77" y1="428.67" x2="89.36" y2="428.33" stroke="#037803" stroke-width="1.8" stroke-dasharray="7,5"/>
<line x1="101.67" y1="428.33" x2="103.26" y2="428.67" stroke="#037803" stroke-width="1.8" stroke-dasharray="7,5"/>
<line x1="115.71" y1="430.27" x2="117.03" y2="430.33" stroke="#037803" stroke-width="1.8" stroke-dasharray="7,5"/>
<line x1="129.53" y1="431.67" x2="131.02" y2="431.93" stroke="#037803" stroke-width="1.8" stroke-dasharray="7,5"/>
<rect x="51.25" y="425.55" width="5.10" height="5.10" fill="none" stroke="#037803" stroke-width="1.7"/>
<rect x="65.16" y="424.55" width="5.10" height="5.10" fill="none" stroke="#037803" stroke-width="1.7"/>
<rect x="79.06" y="427.45" width="5.10" height="5.10" fill="none" stroke="#037803" stroke-width="1.7"/>
<rect x="92.96" y="424.45" width="5.10" height="5.10" fill="none" stroke="#037803" stroke-width="1.7"/>
<rect x="106.87" y="427.45" width="5.10" height="5.10" fill="none" stroke="#037803" stroke-width="1.7"/>
<rect x="120.77" y="428.05" width="5.10" height="5.10" fill="none" stroke="#037803" stroke-width="1.7"/>
<rect x="134.68" y="430.45" width="5.10" height="5.10" fill="none" stroke="#037803" stroke-width="1.7"/>
<line x1="60.10" y1="435.77" x2="61.41" y2="435.73" stroke="#037803" stroke-width="1.8" stroke-dasharray="7,5"/>
<line x1="73.97" y1="436.18" x2="75.35" y2="436.32" stroke="#037803" stroke-width="1.8" stroke-dasharray="7,5"/>
<line x1="87.87" y1="436.32" x2="89.25" y2="436.18" stroke="#037803" stroke-width="1.8" stroke-dasharray="7,5"/>
<line x1="101.81" y1="435.73" x2="103.12" y2="435.77" stroke="#037803" stroke-width="1.8" stroke-dasharray="7,5"/>
<line x1="115.72" y1="436.00" x2="117.02" y2="436.00" stroke="#037803" stroke-width="1.8" stroke-dasharray="7,5"/>
<line x1="129.61" y1="435.55" x2="130.95" y2="435.45" stroke="#037803" stroke-width="1.8" stroke-dasharray="7,5"/>
<circle cx="53.80" cy="436.00" r="2.55" fill="none" stroke="#037803" stroke-width="1.7"/>
<circle cx="67.70" cy="435.50" r="2.55" fill="none" stroke="#037803" stroke-width="1.7"/>
<circle cx="81.61" cy="437.00" r="2.55" fill="none" stroke="#037803" stroke-width="1.7"/>
<circle cx="95.51" cy="435.50" r="2.55" fill="none" stroke="#037803" stroke-width="1.7"/>
<circle cx="109.42" cy="436.00" r="2.55" fill="none" stroke="#037803" stroke-width="1.7"/>
<circle cx="123.32" cy="436.00" r="2.55" fill="none" stroke="#037803" stroke-width="1.7"/>
<circle cx="137.23" cy="435.00" r="2.55" fill="none" stroke="#037803" stroke-width="1.7"/>
<line x1="60.08" y1="439.05" x2="61.42" y2="438.95" stroke="#037803" stroke-width="1.8" stroke-dasharray="7,5"/>
<line x1="73.94" y1="439.40" x2="75.37" y2="439.60" stroke="#037803" stroke-width="1.8" stroke-dasharray="7,5"/>
<line x1="87.91" y1="440.73" x2="89.22" y2="440.77" stroke="#037803" stroke-width="1.8" stroke-dasharray="7,5"/>
<line x1="101.78" y1="440.32" x2="103.16" y2="440.18" stroke="#037803" stroke-width="1.8" stroke-dasharray="7,5"/>
<line x1="115.58" y1="440.83" x2="117.17" y2="441.17" stroke="#037803" stroke-width="1.8" stroke-dasharray="7,5"/>
<line x1="129.50" y1="441.26" x2="131.05" y2="440.94" stroke="#037803" stroke-width="1.8" stroke-dasharray="7,5"/>
<polygon points="53.80,435.53 57.23,441.48 50.37,441.48" fill="none" stroke="#037803" stroke-width="1.7" />
<polygon points="67.70,434.53 71.14,440.48 64.27,440.48" fill="none" stroke="#037803" stroke-width="1.7" />
<polygon points="81.61,436.53 85.04,442.48 78.18,442.48" fill="none" stroke="#037803" stroke-width="1.7" />
<polygon points="95.51,437.03 98.95,442.98 92.08,442.98" fill="none" stroke="#037803" stroke-width="1.7" />
<polygon points="109.42,435.53 112.85,441.48 105.99,441.48" fill="none" stroke="#037803" stroke-width="1.7" />
<polygon points="123.32,438.53 126.76,444.48 119.89,444.48" fill="none" stroke="#037803" stroke-width="1.7" />
<polygon points="137.23,435.73 140.66,441.68 133.80,441.68" fill="none" stroke="#037803" stroke-width="1.7" />
<line x1="60.10" y1="436.50" x2="61.41" y2="436.50" stroke="#037803" stroke-width="1.8" stroke-dasharray="7,5"/>
<line x1="73.99" y1="436.95" x2="75.33" y2="437.05" stroke="#037803" stroke-width="1.8" stroke-dasharray="7,5"/>
<line x1="87.89" y1="437.05" x2="89.23" y2="436.95" stroke="#037803" stroke-width="1.8" stroke-dasharray="7,5"/>
<line x1="101.81" y1="436.73" x2="103.12" y2="436.77" stroke="#037803" stroke-width="1.8" stroke-dasharray="7,5"/>
<line x1="115.72" y1="437.23" x2="117.03" y2="437.27" stroke="#037803" stroke-width="1.8" stroke-dasharray="7,5"/>
<line x1="129.61" y1="437.05" x2="130.95" y2="436.95" stroke="#037803" stroke-width="1.8" stroke-dasharray="7,5"/>
<path d="M50.19 436.50H57.41M53.80 432.89V440.11" stroke="#037803" stroke-width="1.7" fill="none"/>
<path d="M64.10 436.50H71.31M67.70 432.89V440.11" stroke="#037803" stroke-width="1.7" fill="none"/>
<path d="M78.00 437.50H85.22M81.61 433.89V441.11" stroke="#037803" stroke-width="1.7" fill="none"/>
<path d="M91.91 436.50H99.12M95.51 432.89V440.11" stroke="#037803" stroke-width="1.7" fill="none"/>
<path d="M105.81 437.00H113.03M109.42 433.39V440.61" stroke="#037803" stroke-width="1.7" fill="none"/>
<path d="M119.72 437.50H126.93M123.32 433.89V441.11" stroke="#037803" stroke-width="1.7" fill="none"/>
<path d="M133.62 436.50H140.84M137.23 432.89V440.11" stroke="#037803" stroke-width="1.7" fill="none"/>
<line x1="60.10" y1="434.77" x2="61.41" y2="434.73" stroke="#037803" stroke-width="1.8" stroke-dasharray="7,5"/>
<line x1="73.97" y1="435.18" x2="75.35" y2="435.32" stroke="#037803" stroke-width="1.8" stroke-dasharray="7,5"/>
<line x1="87.87" y1="435.32" x2="89.25" y2="435.18" stroke="#037803" stroke-width="1.8" stroke-dasharray="7,5"/>
<line x1="101.78" y1="435.18" x2="103.16" y2="435.32" stroke="#037803" stroke-width="1.8" stroke-dasharray="7,5"/>
<line x1="115.72" y1="436.00" x2="117.02" y2="436.00" stroke="#037803" stroke-width="1.8" stroke-dasharray="7,5"/>
<line x1="129.08" y1="433.43" x2="131.48" y2="432.37" stroke="#037803" stroke-width="1.8" stroke-dasharray="7,5"/>
<path d="M51.25 432.45L56.35 437.55M51.25 437.55L56.35 432.45" stroke="#037803" stroke-width="1.7" fill="none"/>
<path d="M65.16 431.95L70.25 437.05M65.16 437.05L70.25 431.95" stroke="#037803" stroke-width="1.7" fill="none"/>
<path d="M79.06 433.45L84.16 438.55M79.06 438.55L84.16 433.45" stroke="#037803" stroke-width="1.7" fill="none"/>
<path d="M92.96 431.95L98.06 437.05M92.96 437.05L98.06 431.95" stroke="#037803" stroke-width="1.7" fill="none"/>
<path d="M106.87 433.45L111.97 438.55M106.87 438.55L111.97 433.45" stroke="#037803" stroke-width="1.7" fill="none"/>
<path d="M120.77 433.45L125.87 438.55M120.77 438.55L125.87 433.45" stroke="#037803" stroke-width="1.7" fill="none"/>
<path d="M134.68 427.25L139.78 432.35M134.68 432.35L139.78 427.25" stroke="#037803" stroke-width="1.7" fill="none"/>
<line x1="59.64" y1="304.35" x2="75.77" y2="310.85" stroke="#0a0aa0" stroke-width="1.8"/>
<line x1="87.83" y1="314.23" x2="103.20" y2="316.77" stroke="#0a0aa0" stroke-width="1.8"/>
<line x1="115.37" y1="319.87" x2="131.28" y2="325.43" stroke="#0a0aa0" stroke-width="1.8"/>
<line x1="143.52" y1="327.12" x2="158.75" y2="326.18" stroke="#0a0aa0" stroke-width="1.8"/>
<line x1="171.20" y1="327.11" x2="186.69" y2="330.39" stroke="#0a0aa0" stroke-width="1.8"/>
<line x1="198.34" y1="334.78" x2="215.17" y2="344.22" stroke="#0a0aa0" stroke-width="1.8"/>
<line x1="225.94" y1="350.74" x2="243.19" y2="361.96" stroke="#0a0aa0" stroke-width="1.8"/>
<rect x="51.25" y="299.45" width="5.10" height="5.10" fill="none" stroke="#0a0aa0" stroke-width="1.7"/>
<rect x="79.06" y="310.65" width="5.10" height="5.10" fill="none" stroke="#0a0aa0" stroke-width="1.7"/>
<rect x="106.87" y="315.25" width="5.10" height="5.10" fill="none" stroke="#0a0aa0" stroke-width="1.7"/>
<rect x="134.68" y="324.95" width="5.10" height="5.10" fill="none" stroke="#0a0aa0" stroke-width="1.7"/>
<rect x="162.49" y="323.25" width="5.10" height="5.10" fill="none" stroke="#0a0aa0" stroke-width="1.7"/>
<rect x="190.30" y="329.15" width="5.10" height="5.10" fill="none" stroke="#0a0aa0" stroke-width="1.7"/>
<rect x="218.11" y="344.75" width="5.10" height="5.10" fill="none" stroke="#0a0aa0" stroke-width="1.7"/>
<rect x="245.92" y="362.85" width="5.10" height="5.10" fill="none" stroke="#0a0aa0" stroke-width="1.7"/>
<line x1="59.93" y1="301.93" x2="75.48" y2="305.57" stroke="#0a0aa0" stroke-width="1.8"/>
<line x1="87.82" y1="308.07" x2="103.21" y2="310.73" stroke="#0a0aa0" stroke-width="1.8"/>
<line x1="115.52" y1="313.36" x2="131.13" y2="317.34" stroke="#0a0aa0" stroke-width="1.8"/>
<line x1="143.51" y1="318.36" x2="158.76" y2="317.04" stroke="#0a0aa0" stroke-width="1.8"/>
<line x1="171.33" y1="316.77" x2="186.56" y2="317.43" stroke="#0a0aa0" stroke-width="1.8"/>
<line x1="197.76" y1="321.65" x2="215.75" y2="336.15" stroke="#0a0aa0" stroke-width="1.8"/>
<line x1="226.96" y1="340.10" x2="242.17" y2="340.10" stroke="#0a0aa0" stroke-width="1.8"/>
<circle cx="53.80" cy="300.50" r="2.55" fill="none" stroke="#0a0aa0" stroke-width="1.7"/>
<circle cx="81.61" cy="307.00" r="2.55" fill="none" stroke="#0a0aa0" stroke-width="1.7"/>
<circle cx="109.42" cy="311.80" r="2.55" fill="none" stroke="#0a0aa0" stroke-width="1.7"/>
<circle cx="137.23" cy="318.90" r="2.55" fill="none" stroke="#0a0aa0" stroke-width="1.7"/>
<circle cx="165.04" cy="316.50" r="2.55" fill="none" stroke="#0a0aa0" stroke-width="1.7"/>
<circle cx="192.85" cy="317.70" r="2.55" fill="none" stroke="#0a0aa0" stroke-width="1.7"/>
<circle cx="220.66" cy="340.10" r="2.55" fill="none" stroke="#0a0aa0" stroke-width="1.7"/>
<circle cx="248.47" cy="340.10" r="2.55" fill="none" stroke="#0a0aa0" stroke-width="1.7"/>
<line x1="60.05" y1="302.76" x2="75.36" y2="304.64" stroke="#0a0aa0" stroke-width="1.8"/>
<line x1="87.84" y1="306.36" x2="103.19" y2="308.74" stroke="#0a0aa0" stroke-width="1.8"/>
<line x1="115.67" y1="310.46" x2="130.98" y2="312.34" stroke="#0a0aa0" stroke-width="1.8"/>
<line x1="143.44" y1="312.03" x2="158.83" y2="309.37" stroke="#0a0aa0" stroke-width="1.8"/>
<line x1="171.34" y1="308.41" x2="186.55" y2="308.69" stroke="#0a0aa0" stroke-width="1.8"/>
<line x1="199.07" y1="309.78" x2="214.44" y2="312.22" stroke="#0a0aa0" stroke-width="1.8"/>
<line x1="226.44" y1="315.70" x2="242.69" y2="322.70" stroke="#0a0aa0" stroke-width="1.8"/>
<polygon points="53.80,298.03 57.23,303.98 50.37,303.98" fill="none" stroke="#0a0aa0" stroke-width="1.7" />
<polygon points="81.61,301.43 85.04,307.38 78.18,307.38" fill="none" stroke="#0a0aa0" stroke-width="1.7" />
<polygon points="109.42,305.73 112.85,311.68 105.99,311.68" fill="none" stroke="#0a0aa0" stroke-width="1.7" />
<polygon points="137.23,309.13 140.66,315.08 133.80,315.08" fill="none" stroke="#0a0aa0" stroke-width="1.7" />
<polygon points="165.04,304.33 168.47,310.28 161.61,310.28" fill="none" stroke="#0a0aa0" stroke-width="1.7" />
<polygon points="192.85,304.83 196.28,310.78 189.42,310.78" fill="none" stroke="#0a0aa0" stroke-width="1.7" />
<polygon points="220.66,309.23 224.09,315.18 217.23,315.18" fill="none" stroke="#0a0aa0" stroke-width="1.7" />
<polygon points="248.47,321.23 251.90,327.18 245.04,327.18" fill="none" stroke="#0a0aa0" stroke-width="1.7" />
<line x1="59.71" y1="304.69" x2="75.70" y2="310.61" stroke="#0a0aa0" stroke-width="1.8"/>
<line x1="87.83" y1="313.81" x2="103.20" y2="316.29" stroke="#0a0aa0" stroke-width="1.8"/>
<line x1="115.37" y1="319.37" x2="131.28" y2="324.93" stroke="#0a0aa0" stroke-width="1.8"/>
<line x1="143.52" y1="326.62" x2="158.75" y2="325.68" stroke="#0a0aa0" stroke-width="1.8"/>
<line x1="171.20" y1="326.61" x2="186.69" y2="329.89" stroke="#0a0aa0" stroke-width="1.8"/>
<line x1="198.43" y1="334.13" x2="215.08" y2="342.87" stroke="#0a0aa0" stroke-width="1.8"/>
<line x1="225.86" y1="349.35" x2="243.27" y2="361.25" stroke="#0a0aa0" stroke-width="1.8"/>
<path d="M50.19 302.50H57.41M53.80 298.89V306.11" stroke="#0a0aa0" stroke-width="1.7" fill="none"/>
<path d="M78.00 312.80H85.22M81.61 309.19V316.41" stroke="#0a0aa0" stroke-width="1.7" fill="none"/>
<path d="M105.81 317.30H113.03M109.42 313.69V320.91" stroke="#0a0aa0" stroke-width="1.7" fill="none"/>
<path d="M133.62 327.00H140.84M137.23 323.39V330.61" stroke="#0a0aa0" stroke-width="1.7" fill="none"/>
<path d="M161.43 325.30H168.65M165.04 321.69V328.91" stroke="#0a0aa0" stroke-width="1.7" fill="none"/>
<path d="M189.24 331.20H196.46M192.85 327.59V334.81" stroke="#0a0aa0" stroke-width="1.7" fill="none"/>
<path d="M217.05 345.80H224.27M220.66 342.19V349.41" stroke="#0a0aa0" stroke-width="1.7" fill="none"/>
<path d="M244.86 364.80H252.08M248.47 361.19V368.41" stroke="#0a0aa0" stroke-width="1.7" fill="none"/>
<line x1="59.44" y1="321.92" x2="75.97" y2="330.18" stroke="#0a0aa0" stroke-width="1.8"/>
<line x1="87.79" y1="334.20" x2="103.24" y2="337.20" stroke="#0a0aa0" stroke-width="1.8"/>
<line x1="115.08" y1="341.17" x2="131.57" y2="349.23" stroke="#0a0aa0" stroke-width="1.8"/>
<line x1="143.52" y1="351.66" x2="158.75" y2="350.84" stroke="#0a0aa0" stroke-width="1.8"/>
<line x1="170.88" y1="352.85" x2="187.01" y2="359.35" stroke="#0a0aa0" stroke-width="1.8"/>
<line x1="198.74" y1="363.93" x2="214.77" y2="369.97" stroke="#0a0aa0" stroke-width="1.8"/>
<line x1="225.76" y1="375.90" x2="243.37" y2="388.70" stroke="#0a0aa0" stroke-width="1.8"/>
<path d="M51.25 316.55L56.35 321.65M51.25 321.65L56.35 316.55" stroke="#0a0aa0" stroke-width="1.7" fill="none"/>
<path d="M79.06 330.45L84.16 335.55M79.06 335.55L84.16 330.45" stroke="#0a0aa0" stroke-width="1.7" fill="none"/>
<path d="M106.87 335.85L111.97 340.95M106.87 340.95L111.97 335.85" stroke="#0a0aa0" stroke-width="1.7" fill="none"/>
<path d="M134.68 349.45L139.78 354.55M134.68 354.55L139.78 349.45" stroke="#0a0aa0" stroke-width="1.7" fill="none"/>
<path d="M162.49 347.95L167.59 353.05M162.49 353.05L167.59 347.95" stroke="#0a0aa0" stroke-width="1.7" fill="none"/>
<path d="M190.30 359.15L195.40 364.25M190.30 364.25L195.40 359.15" stroke="#0a0aa0" stroke-width="1.7" fill="none"/>
<path d="M218.11 369.65L223.21 374.75M218.11 374.75L223.21 369.65" stroke="#0a0aa0" stroke-width="1.7" fill="none"/>
<path d="M245.92 389.85L251.02 394.95M245.92 394.95L251.02 389.85" stroke="#0a0aa0" stroke-width="1.7" fill="none"/>
<text x="410.10" y="272.1" font-size="20" font-weight="bold" text-anchor="middle" fill="#1a1a1a">(d)</text>
<rect x="309.6" y="283.7" width="210.10" height="169.00" fill="none" stroke="#575757" stroke-width="1.3"/>
<line x1="317.20" y1="452.7" x2="317.20" y2="459.10" stroke="#575757" stroke-width="1.3" stroke-linecap="butt"/>
<text transform="translate(317.20,475.10) scale(1,1.1)" font-size="11.3" text-anchor="middle" fill="#1a1a1a">10</text>
<line x1="345.01" y1="452.7" x2="345.01" y2="459.10" stroke="#575757" stroke-width="1.3" stroke-linecap="butt"/>
<text transform="translate(345.01,475.10) scale(1,1.1)" font-size="11.3" text-anchor="middle" fill="#1a1a1a">20</text>
<line x1="372.82" y1="452.7" x2="372.82" y2="459.10" stroke="#575757" stroke-width="1.3" stroke-linecap="butt"/>
<text transform="translate(372.82,475.10) scale(1,1.1)" font-size="11.3" text-anchor="middle" fill="#1a1a1a">30</text>
<line x1="400.63" y1="452.7" x2="400.63" y2="459.10" stroke="#575757" stroke-width="1.3" stroke-linecap="butt"/>
<text transform="translate(400.63,475.10) scale(1,1.1)" font-size="11.3" text-anchor="middle" fill="#1a1a1a">40</text>
<line x1="428.44" y1="452.7" x2="428.44" y2="459.10" stroke="#575757" stroke-width="1.3" stroke-linecap="butt"/>
<text transform="translate(428.44,475.10) scale(1,1.1)" font-size="11.3" text-anchor="middle" fill="#1a1a1a">50</text>
<line x1="456.25" y1="452.7" x2="456.25" y2="459.10" stroke="#575757" stroke-width="1.3" stroke-linecap="butt"/>
<text transform="translate(456.25,475.10) scale(1,1.1)" font-size="11.3" text-anchor="middle" fill="#1a1a1a">60</text>
<line x1="484.06" y1="452.7" x2="484.06" y2="459.10" stroke="#575757" stroke-width="1.3" stroke-linecap="butt"/>
<text transform="translate(484.06,475.10) scale(1,1.1)" font-size="11.3" text-anchor="middle" fill="#1a1a1a">70</text>
<line x1="511.87" y1="452.7" x2="511.87" y2="459.10" stroke="#575757" stroke-width="1.3" stroke-linecap="butt"/>
<text transform="translate(511.87,475.10) scale(1,1.1)" font-size="11.3" text-anchor="middle" fill="#1a1a1a">80</text>
<text x="414.55" y="497.50" font-size="13.65" text-anchor="middle" fill="#1a1a1a">Sample Size (Number Storms)</text>
<line x1="303.80" y1="306.3" x2="309.6" y2="306.3" stroke="#575757" stroke-width="1.3" stroke-linecap="butt"/>
<text transform="translate(295.80,306.3) rotate(-90) scale(1,1.08)" font-size="11.6" text-anchor="middle" fill="#1a1a1a">80</text>
<line x1="303.80" y1="347.6" x2="309.6" y2="347.6" stroke="#575757" stroke-width="1.3" stroke-linecap="butt"/>
<text transform="translate(295.80,347.6) rotate(-90) scale(1,1.08)" font-size="11.6" text-anchor="middle" fill="#1a1a1a">60</text>
<line x1="303.80" y1="388.9" x2="309.6" y2="388.9" stroke="#575757" stroke-width="1.3" stroke-linecap="butt"/>
<text transform="translate(295.80,388.9) rotate(-90) scale(1,1.08)" font-size="11.6" text-anchor="middle" fill="#1a1a1a">40</text>
<line x1="303.80" y1="430.2" x2="309.6" y2="430.2" stroke="#575757" stroke-width="1.3" stroke-linecap="butt"/>
<text transform="translate(295.80,430.2) rotate(-90) scale(1,1.08)" font-size="11.6" text-anchor="middle" fill="#1a1a1a">20</text>
<text transform="translate(282.00,367.90) rotate(-90)" font-size="13.65" text-anchor="middle" fill="#1a1a1a">MAPE(%)</text>
<line x1="323.36" y1="373.83" x2="324.95" y2="374.17" stroke="#037803" stroke-width="1.8" stroke-dasharray="7,5"/>
<line x1="337.40" y1="375.64" x2="338.71" y2="375.66" stroke="#037803" stroke-width="1.8" stroke-dasharray="7,5"/>
<line x1="350.88" y1="378.08" x2="353.04" y2="378.92" stroke="#037803" stroke-width="1.8" stroke-dasharray="7,5"/>
<line x1="364.99" y1="382.86" x2="366.74" y2="383.34" stroke="#037803" stroke-width="1.8" stroke-dasharray="7,5"/>
<line x1="379.08" y1="384.32" x2="380.46" y2="384.18" stroke="#037803" stroke-width="1.8" stroke-dasharray="7,5"/>
<line x1="392.19" y1="386.64" x2="395.17" y2="388.36" stroke="#037803" stroke-width="1.8" stroke-dasharray="7,5"/>
<rect x="314.65" y="369.95" width="5.10" height="5.10" fill="none" stroke="#037803" stroke-width="1.7"/>
<rect x="328.55" y="372.95" width="5.10" height="5.10" fill="none" stroke="#037803" stroke-width="1.7"/>
<rect x="342.46" y="373.25" width="5.10" height="5.10" fill="none" stroke="#037803" stroke-width="1.7"/>
<rect x="356.36" y="378.65" width="5.10" height="5.10" fill="none" stroke="#037803" stroke-width="1.7"/>
<rect x="370.27" y="382.45" width="5.10" height="5.10" fill="none" stroke="#037803" stroke-width="1.7"/>
<rect x="384.17" y="380.95" width="5.10" height="5.10" fill="none" stroke="#037803" stroke-width="1.7"/>
<rect x="398.08" y="388.95" width="5.10" height="5.10" fill="none" stroke="#037803" stroke-width="1.7"/>
<line x1="323.16" y1="384.46" x2="325.15" y2="385.14" stroke="#037803" stroke-width="1.8" stroke-dasharray="7,5"/>
<line x1="337.36" y1="386.44" x2="338.76" y2="386.26" stroke="#037803" stroke-width="1.8" stroke-dasharray="7,5"/>
<line x1="351.26" y1="386.26" x2="352.66" y2="386.44" stroke="#037803" stroke-width="1.8" stroke-dasharray="7,5"/>
<line x1="364.53" y1="390.06" x2="367.21" y2="391.44" stroke="#037803" stroke-width="1.8" stroke-dasharray="7,5"/>
<line x1="379.12" y1="394.48" x2="380.43" y2="394.52" stroke="#037803" stroke-width="1.8" stroke-dasharray="7,5"/>
<line x1="392.46" y1="397.30" x2="394.89" y2="398.40" stroke="#037803" stroke-width="1.8" stroke-dasharray="7,5"/>
<circle cx="317.20" cy="382.40" r="2.55" fill="none" stroke="#037803" stroke-width="1.7"/>
<circle cx="331.10" cy="387.20" r="2.55" fill="none" stroke="#037803" stroke-width="1.7"/>
<circle cx="345.01" cy="385.50" r="2.55" fill="none" stroke="#037803" stroke-width="1.7"/>
<circle cx="358.91" cy="387.20" r="2.55" fill="none" stroke="#037803" stroke-width="1.7"/>
<circle cx="372.82" cy="394.30" r="2.55" fill="none" stroke="#037803" stroke-width="1.7"/>
<circle cx="386.72" cy="394.70" r="2.55" fill="none" stroke="#037803" stroke-width="1.7"/>
<circle cx="400.63" cy="401.00" r="2.55" fill="none" stroke="#037803" stroke-width="1.7"/>
<line x1="323.36" y1="373.33" x2="324.95" y2="373.67" stroke="#037803" stroke-width="1.8" stroke-dasharray="7,5"/>
<line x1="337.28" y1="373.76" x2="338.83" y2="373.44" stroke="#037803" stroke-width="1.8" stroke-dasharray="7,5"/>
<line x1="351.31" y1="372.34" x2="352.62" y2="372.36" stroke="#037803" stroke-width="1.8" stroke-dasharray="7,5"/>
<line x1="365.04" y1="373.95" x2="366.69" y2="374.35" stroke="#037803" stroke-width="1.8" stroke-dasharray="7,5"/>
<line x1="379.12" y1="376.03" x2="380.43" y2="376.07" stroke="#037803" stroke-width="1.8" stroke-dasharray="7,5"/>
<line x1="392.71" y1="378.28" x2="394.65" y2="378.92" stroke="#037803" stroke-width="1.8" stroke-dasharray="7,5"/>
<polygon points="317.20,368.03 320.63,373.98 313.77,373.98" fill="none" stroke="#037803" stroke-width="1.7" />
<polygon points="331.10,371.03 334.54,376.98 327.67,376.98" fill="none" stroke="#037803" stroke-width="1.7" />
<polygon points="345.01,368.23 348.44,374.18 341.58,374.18" fill="none" stroke="#037803" stroke-width="1.7" />
<polygon points="358.91,368.53 362.35,374.48 355.48,374.48" fill="none" stroke="#037803" stroke-width="1.7" />
<polygon points="372.82,371.83 376.25,377.78 369.39,377.78" fill="none" stroke="#037803" stroke-width="1.7" />
<polygon points="386.72,372.33 390.16,378.28 383.29,378.28" fill="none" stroke="#037803" stroke-width="1.7" />
<polygon points="400.63,376.93 404.06,382.88 397.20,382.88" fill="none" stroke="#037803" stroke-width="1.7" />
<line x1="323.18" y1="384.38" x2="325.12" y2="385.02" stroke="#037803" stroke-width="1.8" stroke-dasharray="7,5"/>
<line x1="337.34" y1="386.10" x2="338.77" y2="385.90" stroke="#037803" stroke-width="1.8" stroke-dasharray="7,5"/>
<line x1="351.27" y1="384.32" x2="352.65" y2="384.18" stroke="#037803" stroke-width="1.8" stroke-dasharray="7,5"/>
<line x1="365.12" y1="384.61" x2="366.62" y2="384.89" stroke="#037803" stroke-width="1.8" stroke-dasharray="7,5"/>
<line x1="379.12" y1="386.00" x2="380.42" y2="386.00" stroke="#037803" stroke-width="1.8" stroke-dasharray="7,5"/>
<line x1="392.12" y1="389.26" x2="395.24" y2="391.14" stroke="#037803" stroke-width="1.8" stroke-dasharray="7,5"/>
<path d="M313.59 382.40H320.81M317.20 378.79V386.01" stroke="#037803" stroke-width="1.7" fill="none"/>
<path d="M327.50 387.00H334.71M331.10 383.39V390.61" stroke="#037803" stroke-width="1.7" fill="none"/>
<path d="M341.40 385.00H348.62M345.01 381.39V388.61" stroke="#037803" stroke-width="1.7" fill="none"/>
<path d="M355.31 383.50H362.52M358.91 379.89V387.11" stroke="#037803" stroke-width="1.7" fill="none"/>
<path d="M369.21 386.00H376.43M372.82 382.39V389.61" stroke="#037803" stroke-width="1.7" fill="none"/>
<path d="M383.12 386.00H390.33M386.72 382.39V389.61" stroke="#037803" stroke-width="1.7" fill="none"/>
<path d="M397.02 394.40H404.24M400.63 390.79V398.01" stroke="#037803" stroke-width="1.7" fill="none"/>
<line x1="322.16" y1="392.49" x2="326.15" y2="395.61" stroke="#037803" stroke-width="1.8" stroke-dasharray="7,5"/>
<line x1="337.40" y1="399.18" x2="338.72" y2="399.12" stroke="#037803" stroke-width="1.8" stroke-dasharray="7,5"/>
<line x1="350.67" y1="401.57" x2="353.26" y2="402.83" stroke="#037803" stroke-width="1.8" stroke-dasharray="7,5"/>
<line x1="365.12" y1="406.67" x2="366.61" y2="406.93" stroke="#037803" stroke-width="1.8" stroke-dasharray="7,5"/>
<line x1="378.00" y1="411.58" x2="381.54" y2="414.02" stroke="#037803" stroke-width="1.8" stroke-dasharray="7,5"/>
<line x1="392.03" y1="421.00" x2="395.32" y2="423.10" stroke="#037803" stroke-width="1.8" stroke-dasharray="7,5"/>
<path d="M314.65 386.05L319.75 391.15M314.65 391.15L319.75 386.05" stroke="#037803" stroke-width="1.7" fill="none"/>
<path d="M328.55 396.95L333.65 402.05M328.55 402.05L333.65 396.95" stroke="#037803" stroke-width="1.7" fill="none"/>
<path d="M342.46 396.25L347.56 401.35M342.46 401.35L347.56 396.25" stroke="#037803" stroke-width="1.7" fill="none"/>
<path d="M356.36 403.05L361.46 408.15M356.36 408.15L361.46 403.05" stroke="#037803" stroke-width="1.7" fill="none"/>
<path d="M370.27 405.45L375.37 410.55M370.27 410.55L375.37 405.45" stroke="#037803" stroke-width="1.7" fill="none"/>
<path d="M384.17 415.05L389.27 420.15M384.17 420.15L389.27 415.05" stroke="#037803" stroke-width="1.7" fill="none"/>
<path d="M398.08 423.95L403.18 429.05M398.08 429.05L403.18 423.95" stroke="#037803" stroke-width="1.7" fill="none"/>
<line x1="322.92" y1="349.63" x2="339.29" y2="357.17" stroke="#0a0aa0" stroke-width="1.8"/>
<line x1="351.25" y1="360.65" x2="366.58" y2="362.75" stroke="#0a0aa0" stroke-width="1.8"/>
<line x1="379.12" y1="363.80" x2="394.33" y2="364.30" stroke="#0a0aa0" stroke-width="1.8"/>
<line x1="406.76" y1="365.93" x2="422.31" y2="369.57" stroke="#0a0aa0" stroke-width="1.8"/>
<line x1="434.74" y1="370.77" x2="449.95" y2="370.23" stroke="#0a0aa0" stroke-width="1.8"/>
<line x1="462.33" y1="371.64" x2="477.98" y2="375.86" stroke="#0a0aa0" stroke-width="1.8"/>
<line x1="489.02" y1="381.39" x2="506.91" y2="395.41" stroke="#0a0aa0" stroke-width="1.8"/>
<rect x="314.65" y="344.45" width="5.10" height="5.10" fill="none" stroke="#0a0aa0" stroke-width="1.7"/>
<rect x="342.46" y="357.25" width="5.10" height="5.10" fill="none" stroke="#0a0aa0" stroke-width="1.7"/>
<rect x="370.27" y="361.05" width="5.10" height="5.10" fill="none" stroke="#0a0aa0" stroke-width="1.7"/>
<rect x="398.08" y="361.95" width="5.10" height="5.10" fill="none" stroke="#0a0aa0" stroke-width="1.7"/>
<rect x="425.89" y="368.45" width="5.10" height="5.10" fill="none" stroke="#0a0aa0" stroke-width="1.7"/>
<rect x="453.70" y="367.45" width="5.10" height="5.10" fill="none" stroke="#0a0aa0" stroke-width="1.7"/>
<rect x="481.51" y="374.95" width="5.10" height="5.10" fill="none" stroke="#0a0aa0" stroke-width="1.7"/>
<rect x="509.32" y="396.75" width="5.10" height="5.10" fill="none" stroke="#0a0aa0" stroke-width="1.7"/>
<line x1="323.22" y1="353.34" x2="338.99" y2="358.16" stroke="#0a0aa0" stroke-width="1.8"/>
<line x1="351.25" y1="360.90" x2="366.58" y2="363.10" stroke="#0a0aa0" stroke-width="1.8"/>
<line x1="379.12" y1="363.89" x2="394.33" y2="363.61" stroke="#0a0aa0" stroke-width="1.8"/>
<line x1="406.83" y1="364.61" x2="422.24" y2="367.39" stroke="#0a0aa0" stroke-width="1.8"/>
<line x1="434.74" y1="368.27" x2="449.95" y2="367.73" stroke="#0a0aa0" stroke-width="1.8"/>
<line x1="462.24" y1="369.44" x2="478.07" y2="374.56" stroke="#0a0aa0" stroke-width="1.8"/>
<line x1="490.02" y1="378.56" x2="505.91" y2="384.04" stroke="#0a0aa0" stroke-width="1.8"/>
<circle cx="317.20" cy="351.50" r="2.55" fill="none" stroke="#0a0aa0" stroke-width="1.7"/>
<circle cx="345.01" cy="360.00" r="2.55" fill="none" stroke="#0a0aa0" stroke-width="1.7"/>
<circle cx="372.82" cy="364.00" r="2.55" fill="none" stroke="#0a0aa0" stroke-width="1.7"/>
<circle cx="400.63" cy="363.50" r="2.55" fill="none" stroke="#0a0aa0" stroke-width="1.7"/>
<circle cx="428.44" cy="368.50" r="2.55" fill="none" stroke="#0a0aa0" stroke-width="1.7"/>
<circle cx="456.25" cy="367.50" r="2.55" fill="none" stroke="#0a0aa0" stroke-width="1.7"/>
<circle cx="484.06" cy="376.50" r="2.55" fill="none" stroke="#0a0aa0" stroke-width="1.7"/>
<circle cx="511.87" cy="386.10" r="2.55" fill="none" stroke="#0a0aa0" stroke-width="1.7"/>
<line x1="322.94" y1="333.80" x2="339.27" y2="341.20" stroke="#0a0aa0" stroke-width="1.8"/>
<line x1="350.97" y1="345.84" x2="366.86" y2="351.26" stroke="#0a0aa0" stroke-width="1.8"/>
<line x1="378.94" y1="354.78" x2="394.51" y2="358.52" stroke="#0a0aa0" stroke-width="1.8"/>
<line x1="406.92" y1="359.62" x2="422.15" y2="358.68" stroke="#0a0aa0" stroke-width="1.8"/>
<line x1="434.68" y1="357.43" x2="450.01" y2="355.27" stroke="#0a0aa0" stroke-width="1.8"/>
<line x1="462.26" y1="356.30" x2="478.05" y2="361.30" stroke="#0a0aa0" stroke-width="1.8"/>
<line x1="490.26" y1="364.31" x2="505.67" y2="367.09" stroke="#0a0aa0" stroke-width="1.8"/>
<polygon points="317.20,327.23 320.63,333.18 313.77,333.18" fill="none" stroke="#0a0aa0" stroke-width="1.7" />
<polygon points="345.01,339.83 348.44,345.78 341.58,345.78" fill="none" stroke="#0a0aa0" stroke-width="1.7" />
<polygon points="372.82,349.33 376.25,355.28 369.39,355.28" fill="none" stroke="#0a0aa0" stroke-width="1.7" />
<polygon points="400.63,356.03 404.06,361.98 397.20,361.98" fill="none" stroke="#0a0aa0" stroke-width="1.7" />
<polygon points="428.44,354.33 431.87,360.28 425.01,360.28" fill="none" stroke="#0a0aa0" stroke-width="1.7" />
<polygon points="456.25,350.43 459.68,356.38 452.82,356.38" fill="none" stroke="#0a0aa0" stroke-width="1.7" />
<polygon points="484.06,359.23 487.49,365.18 480.63,365.18" fill="none" stroke="#0a0aa0" stroke-width="1.7" />
<polygon points="511.87,364.23 515.30,370.18 508.44,370.18" fill="none" stroke="#0a0aa0" stroke-width="1.7" />
<line x1="323.06" y1="349.82" x2="339.15" y2="356.18" stroke="#0a0aa0" stroke-width="1.8"/>
<line x1="351.23" y1="359.51" x2="366.60" y2="361.99" stroke="#0a0aa0" stroke-width="1.8"/>
<line x1="379.11" y1="363.34" x2="394.34" y2="364.16" stroke="#0a0aa0" stroke-width="1.8"/>
<line x1="406.83" y1="365.61" x2="422.24" y2="368.39" stroke="#0a0aa0" stroke-width="1.8"/>
<line x1="434.74" y1="369.27" x2="449.95" y2="368.73" stroke="#0a0aa0" stroke-width="1.8"/>
<line x1="462.24" y1="370.44" x2="478.07" y2="375.56" stroke="#0a0aa0" stroke-width="1.8"/>
<line x1="489.63" y1="380.44" x2="506.30" y2="389.26" stroke="#0a0aa0" stroke-width="1.8"/>
<path d="M313.59 347.50H320.81M317.20 343.89V351.11" stroke="#0a0aa0" stroke-width="1.7" fill="none"/>
<path d="M341.40 358.50H348.62M345.01 354.89V362.11" stroke="#0a0aa0" stroke-width="1.7" fill="none"/>
<path d="M369.21 363.00H376.43M372.82 359.39V366.61" stroke="#0a0aa0" stroke-width="1.7" fill="none"/>
<path d="M397.02 364.50H404.24M400.63 360.89V368.11" stroke="#0a0aa0" stroke-width="1.7" fill="none"/>
<path d="M424.83 369.50H432.05M428.44 365.89V373.11" stroke="#0a0aa0" stroke-width="1.7" fill="none"/>
<path d="M452.64 368.50H459.86M456.25 364.89V372.11" stroke="#0a0aa0" stroke-width="1.7" fill="none"/>
<path d="M480.45 377.50H487.67M484.06 373.89V381.11" stroke="#0a0aa0" stroke-width="1.7" fill="none"/>
<path d="M508.26 392.20H515.48M511.87 388.59V395.81" stroke="#0a0aa0" stroke-width="1.7" fill="none"/>
<line x1="323.38" y1="361.22" x2="338.83" y2="364.28" stroke="#0a0aa0" stroke-width="1.8"/>
<line x1="351.29" y1="365.97" x2="366.54" y2="367.13" stroke="#0a0aa0" stroke-width="1.8"/>
<line x1="379.04" y1="368.58" x2="394.41" y2="371.02" stroke="#0a0aa0" stroke-width="1.8"/>
<line x1="406.49" y1="374.32" x2="422.58" y2="380.68" stroke="#0a0aa0" stroke-width="1.8"/>
<line x1="434.51" y1="384.70" x2="450.18" y2="389.10" stroke="#0a0aa0" stroke-width="1.8"/>
<line x1="462.27" y1="392.64" x2="478.04" y2="397.46" stroke="#0a0aa0" stroke-width="1.8"/>
<line x1="489.78" y1="401.93" x2="506.15" y2="409.47" stroke="#0a0aa0" stroke-width="1.8"/>
<path d="M314.65 357.45L319.75 362.55M314.65 362.55L319.75 357.45" stroke="#0a0aa0" stroke-width="1.7" fill="none"/>
<path d="M342.46 362.95L347.56 368.05M342.46 368.05L347.56 362.95" stroke="#0a0aa0" stroke-width="1.7" fill="none"/>
<path d="M370.27 365.05L375.37 370.15M370.27 370.15L375.37 365.05" stroke="#0a0aa0" stroke-width="1.7" fill="none"/>
<path d="M398.08 369.45L403.18 374.55M398.08 374.55L403.18 369.45" stroke="#0a0aa0" stroke-width="1.7" fill="none"/>
<path d="M425.89 380.45L430.99 385.55M425.89 385.55L430.99 380.45" stroke="#0a0aa0" stroke-width="1.7" fill="none"/>
<path d="M453.70 388.25L458.80 393.35M453.70 393.35L458.80 388.25" stroke="#0a0aa0" stroke-width="1.7" fill="none"/>
<path d="M481.51 396.75L486.61 401.85M481.51 401.85L486.61 396.75" stroke="#0a0aa0" stroke-width="1.7" fill="none"/>
<path d="M509.32 409.55L514.42 414.65M509.32 414.65L514.42 409.55" stroke="#0a0aa0" stroke-width="1.7" fill="none"/>
<line x1="129.30" y1="515.5" x2="149.90" y2="515.5" stroke="#0a0aa0" stroke-width="1.2" stroke-linecap="butt"/>
<rect x="136.88" y="512.88" width="5.25" height="5.25" fill="none" stroke="#0a0aa0" stroke-width="1.3"/>
<text x="159.60" y="520.00" font-size="10.6" fill="#1a1a1a">RF_1</text>
<line x1="197.60" y1="515.5" x2="218.20" y2="515.5" stroke="#0a0aa0" stroke-width="1.2" stroke-linecap="butt"/>
<circle cx="207.80" cy="515.50" r="2.62" fill="none" stroke="#0a0aa0" stroke-width="1.3"/>
<text x="227.90" y="520.00" font-size="10.6" fill="#1a1a1a">BT_1</text>
<line x1="265.90" y1="515.5" x2="286.50" y2="515.5" stroke="#0a0aa0" stroke-width="1.2" stroke-linecap="butt"/>
<polygon points="276.10,511.42 279.64,517.54 272.56,517.54" fill="none" stroke="#0a0aa0" stroke-width="1.3" />
<text x="296.20" y="520.00" font-size="10.6" fill="#1a1a1a">DT_1</text>
<line x1="334.20" y1="515.5" x2="354.80" y2="515.5" stroke="#0a0aa0" stroke-width="1.2" stroke-linecap="butt"/>
<path d="M340.69 515.50H348.11M344.40 511.79V519.21" stroke="#0a0aa0" stroke-width="1.3" fill="none"/>
<text x="364.50" y="520.00" font-size="10.6" fill="#1a1a1a">ENS_1</text>
<line x1="402.50" y1="515.5" x2="423.10" y2="515.5" stroke="#0a0aa0" stroke-width="1.2" stroke-linecap="butt"/>
<path d="M410.07 512.88L415.32 518.12M410.07 518.12L415.32 512.88" stroke="#0a0aa0" stroke-width="1.3" fill="none"/>
<text x="432.80" y="520.00" font-size="10.6" fill="#1a1a1a">OPT_1</text>
<line x1="129.30" y1="536.4" x2="149.90" y2="536.4" stroke="#037803" stroke-width="1.2" stroke-linecap="butt"/>
<rect x="136.88" y="533.77" width="5.25" height="5.25" fill="none" stroke="#037803" stroke-width="1.3"/>
<text x="159.60" y="540.90" font-size="10.6" fill="#1a1a1a">RF_2</text>
<line x1="197.60" y1="536.4" x2="218.20" y2="536.4" stroke="#037803" stroke-width="1.2" stroke-linecap="butt"/>
<circle cx="207.80" cy="536.40" r="2.62" fill="none" stroke="#037803" stroke-width="1.3"/>
<text x="227.90" y="540.90" font-size="10.6" fill="#1a1a1a">BT_2</text>
<line x1="265.90" y1="536.4" x2="286.50" y2="536.4" stroke="#037803" stroke-width="1.2" stroke-linecap="butt"/>
<polygon points="276.10,532.32 279.64,538.44 272.56,538.44" fill="none" stroke="#037803" stroke-width="1.3" />
<text x="296.20" y="540.90" font-size="10.6" fill="#1a1a1a">DT_2</text>
<line x1="334.20" y1="536.4" x2="354.80" y2="536.4" stroke="#037803" stroke-width="1.2" stroke-linecap="butt"/>
<path d="M340.69 536.40H348.11M344.40 532.69V540.11" stroke="#037803" stroke-width="1.3" fill="none"/>
<text x="364.50" y="540.90" font-size="10.6" fill="#1a1a1a">ENS_2</text>
<line x1="402.50" y1="536.4" x2="423.10" y2="536.4" stroke="#037803" stroke-width="1.2" stroke-linecap="butt"/>
<path d="M410.07 533.77L415.32 539.02M410.07 539.02L415.32 533.77" stroke="#037803" stroke-width="1.3" fill="none"/>
<text x="432.80" y="540.90" font-size="10.6" fill="#1a1a1a">OPT_2</text>
</svg>
</body></html>
